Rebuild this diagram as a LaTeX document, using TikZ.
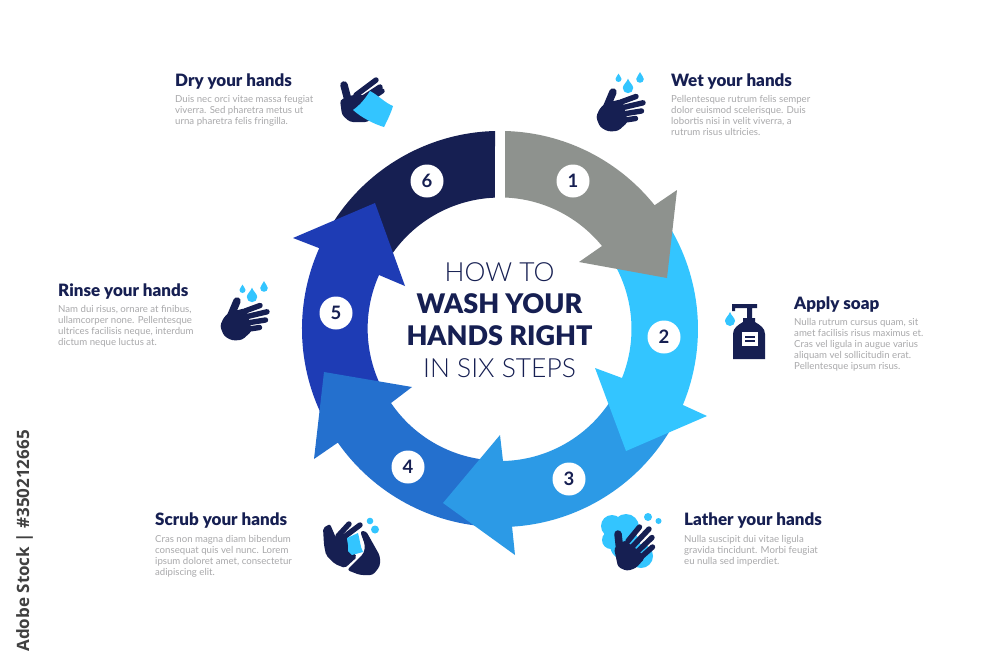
\documentclass[tikz,border=0pt]{standalone}
\usepackage{fontspec}
\setmainfont{Lato}
\newfontfamily\heavyfont{Lato Black}
\newfontfamily\lightfont{Lato Light}
\newfontfamily\creditfont{Open Sans}
\definecolor{navy}{HTML}{161F52}
\definecolor{stepa}{HTML}{8E928E}
\definecolor{stepb}{HTML}{33C5FF}
\definecolor{stepc}{HTML}{2C9AE6}
\definecolor{stepd}{HTML}{2470CE}
\definecolor{stepe}{HTML}{1E3CB5}
\definecolor{bodygray}{HTML}{A9A9AB}
\tikzset{
  numdisc/.style={circle,fill=white,text=navy,minimum size=33pt,inner sep=0pt,font=\fontsize{18.5}{19}\selectfont\bfseries},
  headtext/.style={anchor=base west,inner sep=0pt,text=navy,font=\heavyfont\fontsize{17}{18}\selectfont},
  bodytext/.style={anchor=north west,inner sep=0pt,align=left,text=bodygray,font=\fontsize{9.65}{11}\selectfont},
  bigtitle/.style={anchor=base,inner sep=0pt,text=navy,font=\lightfont\fontsize{26.4}{30}\selectfont},
  bigbold/.style={anchor=base,inner sep=0pt,text=navy,font=\heavyfont\fontsize{27}{30}\selectfont},
  finger/.style={line width=5.4pt,line cap=round,draw=navy},
  thumb/.style={line width=7.5pt,line cap=round,draw=navy},
  pics/dropshape/.style={code={\fill[stepb] (0,-1.8) .. controls (0.3,-1) and (1,-0.6) .. (1,0) arc[start angle=0,end angle=180,radius=1] .. controls (-1,-0.6) and (-0.3,-1) .. cycle;}},
  pics/openhand/.style={code={
    \draw[thumb] (605,111) -- (613,92);
    \fill[navy,rounded corners=3pt] (606,103) -- (622,99) -- (628,122) -- (618,131) -- (608,131.5) -- (600,127) -- (596,117) -- (600,108) -- cycle;
    \draw[finger] (621,102) -- (636,96.5);
    \draw[finger] (622,107.8) -- (643,102.8);
    \draw[finger] (623,114) -- (641.5,111);
    \draw[finger] (622,120.5) -- (635.5,118.5);
  }}
}
\begin{document}
\begin{tikzpicture}[x=1pt,y=-1pt]
\useasboundingbox (0,0) rectangle (1000,667);
\fill[white] (0,0) rectangle (1000,667);
% ring arrows, last one first
\fill[navy] (495,131) arc[start angle=268.55,end angle=208,radius=198] -- (383.9,267.3) arc[start angle=208,end angle=267.8,radius=131.5] -- cycle;
\fill[stepe] (328.5,428) arc[start angle=150,end angle=204.1,radius=198] -- (293,238) -- (375,203) -- (405,286) -- (379,275) arc[start angle=204,end angle=150,radius=131.5] -- cycle;
\fill[stepd] (493.1,526.9) arc[start angle=92,end angle=145,radius=198] -- (314,459) -- (324,372) -- (412,387) -- (391,403) arc[start angle=145.8,end angle=92,radius=131.5] -- cycle;
\fill[stepc] (674.8,422) arc[start angle=28,end angle=86.5,radius=198] -- (515,555) -- (443,503) -- (500,435) -- (503,461) arc[start angle=88.7,end angle=28,radius=131.5] -- cycle;
\fill[stepb] (667.9,224.1) arc[start angle=-32,end angle=22.55,radius=198] -- (707,416) -- (626,451) -- (595,368) -- (622,378) arc[start angle=21.9,end angle=-32,radius=131.5] -- cycle;
\fill[stepa] (505,131) arc[start angle=-88.55,end angle=-38.66,radius=198] -- (677,190) -- (667,278) -- (579,262) -- (602,246) arc[start angle=-39.1,end angle=-87.8,radius=131.5] -- cycle;
% numbers
\node[numdisc] (n1) at (573,181) {1};
\node[numdisc] (n2) at (664,337) {2};
\node[numdisc] (n3) at (569,479) {3};
\node[numdisc] (n4) at (408,467) {4};
\node[numdisc] (n5) at (336,313) {5};
\node[numdisc] (n6) at (427,181) {6};
% centre title
\node[bigtitle] (t1) at (499.5,281) {HOW TO};
\node[bigbold] (t2) at (499.5,313) {WASH YOUR};
\node[bigbold] (t3) at (499.5,345) {HANDS RIGHT};
\node[bigtitle] (t4) at (499.5,377) {IN SIX STEPS};
% captions
\node[headtext] (h6) at (175,86) {Dry your hands};
\node[bodytext] (b6) at (175,95) {Duis nec orci vitae massa feugiat\\viverra. Sed pharetra metus ut\\urna pharetra felis fringilla.};
\node[headtext] (h1) at (671,86) {Wet your hands};
\node[bodytext] (b1) at (671,95) {Pellentesque rutrum felis semper\\dolor euismod scelerisque. Duis\\lobortis nisi in velit viverra, a\\rutrum risus ultricies.};
\node[headtext] (h2) at (794,309) {Apply soap};
\node[bodytext] (b2) at (794,318) {Nulla rutrum cursus quam, sit\\amet facilisis risus maximus et.\\Cras vel ligula in augue varius\\aliquam vel sollicitudin erat.\\Pellentesque ipsum risus.};
\node[headtext] (h3) at (684,525) {Lather your hands};
\node[bodytext] (b3) at (684,535) {Nulla suscipit dui vitae ligula\\gravida tincidunt. Morbi feugiat\\eu nulla sed imperdiet.};
\node[headtext] (h4) at (155,525) {Scrub your hands};
\node[bodytext] (b4) at (155,535) {Cras non magna diam bibendum\\consequat quis vel nunc. Lorem\\ipsum doloret amet, consectetur\\adipiscing elit.};
\node[headtext] (h5) at (58,296) {Rinse your hands};
\node[bodytext] (b5) at (58,305) {Nam dui risus, ornare at finibus,\\ullamcorper none. Pellentesque\\ultrices facilisis neque, interdum\\dictum neque luctus at.};
% wet
\pic at (0,0) {openhand};
\pic[scale=3] at (618.5,79) {dropshape};
\pic[scale=5.2] at (628,88) {dropshape};
\pic[scale=3.8] at (640,79) {dropshape};
% rinse
\begin{scope}[shift={(-376,209)}]
\pic at (0,0) {openhand};
\pic[scale=3] at (618.5,81) {dropshape};
\pic[scale=5.2] at (628,88) {dropshape};
\pic[scale=3.8] at (640,79) {dropshape};
\end{scope}
% soap
\fill[navy] (732,304) -- (757,304) -- (757,308) -- (752,308) -- (752,318) -- (755,318) -- (755,322) .. controls (760,325) and (765,328) .. (765,334) -- (765,359) -- (733,359) -- (733,334) .. controls (733,328) and (738,325) .. (743,322) -- (743,318) -- (747,318) -- (747,308) -- (735,308) -- (735,311) -- (732,311) -- cycle;
\fill[white] (742,332) rectangle (758,346);
\fill[navy] (745,335.5) rectangle (755,337.5);
\fill[navy] (745,340) rectangle (755,342);
\pic[scale=5] at (730,321) {dropshape};
% lather
\fill[stepb] (612,526) circle[radius=11];
\fill[stepb] (626,527) circle[radius=13];
\fill[stepb] (611,540) circle[radius=9];
\fill[stepb] (625,545) circle[radius=15];
\fill[stepb] (641,556) circle[radius=12];
\fill[stepb] (648,517) circle[radius=4];
\fill[stepb] (658.5,521) circle[radius=3];
\draw[thumb] (618,534) -- (620,552);
\fill[navy,rounded corners=3pt] (614,548) -- (625,540) -- (640,552) -- (645,558) -- (636,568) -- (627,571) -- (618,567) -- cycle;
\draw[finger] (628,541) -- (639.5,527);
\draw[finger] (633,546) -- (649,529);
\draw[finger] (637,552) -- (652,537.5);
\draw[finger] (639,559) -- (652.5,547);
% dry
\draw[thumb] (344,85) -- (349,104);
\fill[navy,rounded corners=3pt] (340,100) -- (352,95) -- (370,95) -- (375,115) -- (368,122) -- (350,122) -- (342,115) -- cycle;
\draw[finger] (356,95) -- (376,80);
\draw[finger] (360,100) -- (380,87);
\draw[finger] (368,100) -- (382,91);
\fill[stepb] (370,91) .. controls (378,95) and (385,103) .. (393,106) .. controls (391,113) and (387,121) .. (384,127) .. controls (374,124) and (362,118) .. (353,110) .. controls (360,105) and (365,99) .. (370,91) -- cycle;
% scrub
\fill[navy,rounded corners=2pt] (323,528) -- (330,524) -- (336,538) -- (347,534) -- (350,548) -- (357,557) -- (345,568) -- (335,564) -- (326,555) -- (324,545) -- cycle;
\draw[finger] (338,536) -- (349,524);
\draw[finger] (344,537) -- (360,525);
\fill[navy,rounded corners=3pt] (360,531) -- (366,531) -- (380,556) -- (380,566) -- (373,575) -- (360,575) -- (347,570) -- (358,559) -- (364,553) -- (365,545) -- cycle;
\fill[stepb] (358,533) .. controls (360,540) and (360,546) .. (363,552) -- (352,555) -- (348,551) .. controls (349,546) and (347,542) .. (347,538) -- cycle;
\fill[stepb] (370,521) circle[radius=3.3];
\fill[stepb] (375,529.5) circle[radius=4];
% stock credit printed along the left edge
\node[rotate=90,anchor=base east,inner sep=0pt,text=black!75,font=\creditfont\fontsize{17}{17}\selectfont\bfseries] (credit) at (29,430) {Adobe Stock | \#350212665};
\end{tikzpicture}
\end{document}
